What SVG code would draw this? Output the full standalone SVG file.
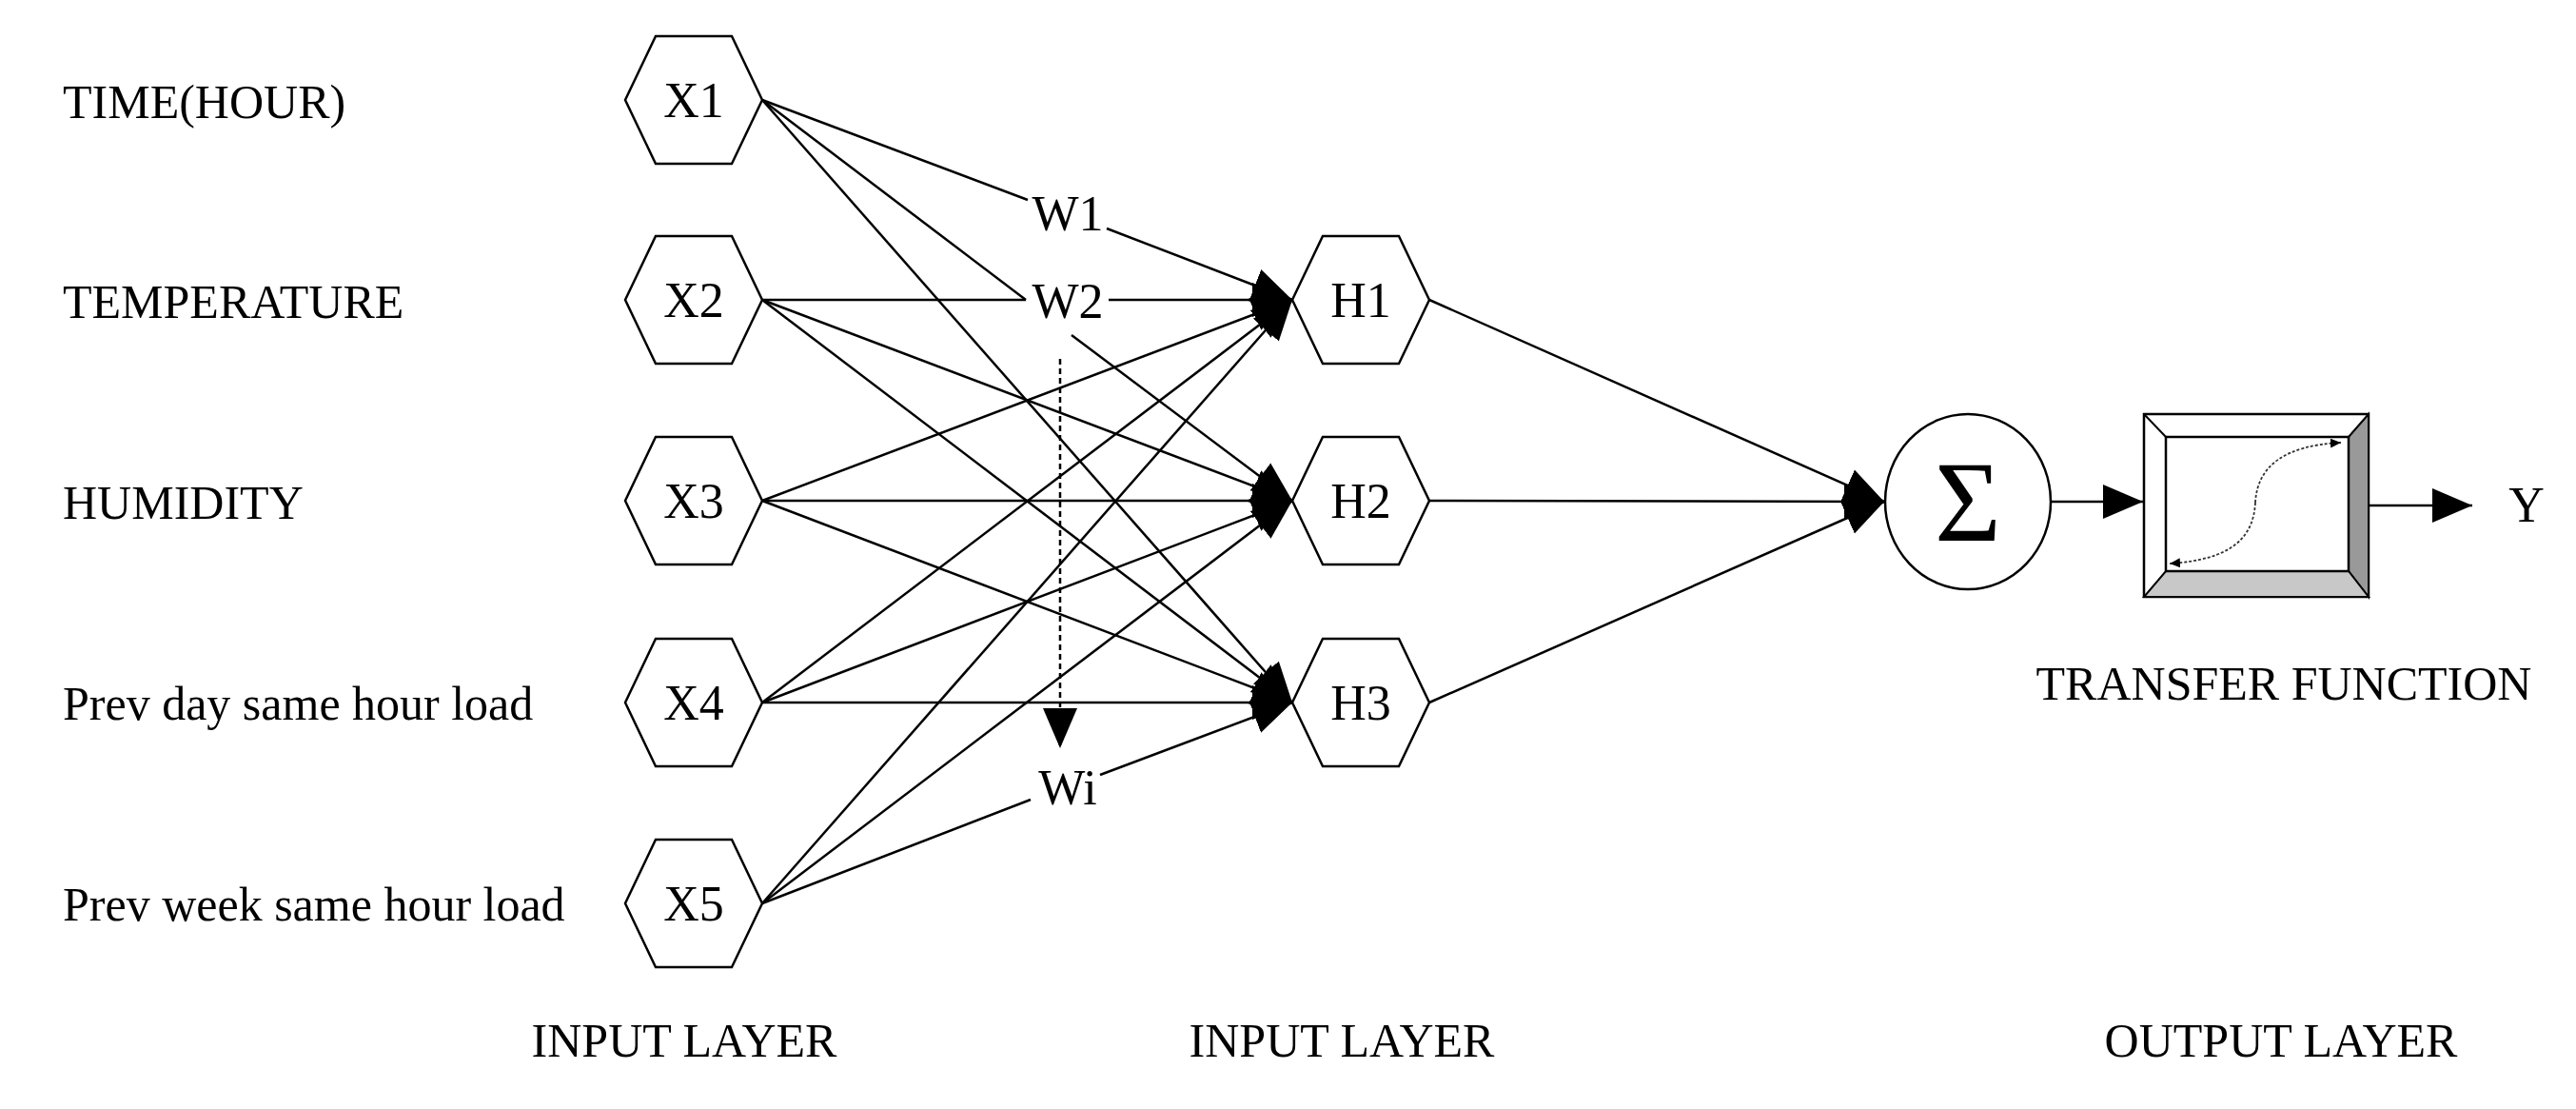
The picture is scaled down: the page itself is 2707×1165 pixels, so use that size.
<svg xmlns="http://www.w3.org/2000/svg" width="2707" height="1165" viewBox="0 0 2707 1165">
<defs>
<style>
text{font-family:"Liberation Serif","Times New Roman",serif;fill:#000}
.lbl{font-size:50px}
.nd{font-size:52px;text-anchor:middle}
.hex{fill:#fff;stroke:#000;stroke-width:2.5}
.c{stroke:#000;stroke-width:2.5;fill:none}
</style>
<marker id="ah" markerUnits="userSpaceOnUse" markerWidth="44" markerHeight="40" refX="42" refY="20" orient="auto"><path d="M0,2 L42,20 L0,38 Z" fill="#000"/></marker>
<marker id="sa" markerUnits="userSpaceOnUse" markerWidth="12" markerHeight="10" refX="11" refY="5" orient="auto"><path d="M0,0 L11,5 L0,10 Z" fill="#000"/></marker>
</defs>
<rect width="2707" height="1165" fill="#fff"/>
<g id="labels">
<text class="lbl" x="66" y="124">TIME(HOUR)</text>
<text class="lbl" x="66" y="334">TEMPERATURE</text>
<text class="lbl" x="66" y="545">HUMIDITY</text>
<text class="lbl" x="66" y="756">Prev day same hour load</text>
<text class="lbl" x="66" y="967">Prev week same hour load</text>
<text class="lbl" x="719" y="1110" text-anchor="middle">INPUT LAYER</text>
<text class="lbl" x="1410" y="1110" text-anchor="middle">INPUT LAYER</text>
<text class="lbl" x="2397" y="1110" text-anchor="middle">OUTPUT LAYER</text>
<text class="lbl" x="2400" y="735" text-anchor="middle">TRANSFER FUNCTION</text>
<text class="nd" x="1122" y="242">W1</text>
<text class="nd" x="1122" y="334">W2</text>
<text class="nd" x="1122" y="845">Wi</text>
<text class="nd" x="2655" y="548">Y</text>
</g>
<g id="connectors">
<line class="c" x1="801" y1="105" x2="1080" y2="210"/>
<line class="c" x1="1163" y1="240" x2="1358" y2="315" marker-end="url(#ah)"/>
<line class="c" x1="801" y1="105" x2="1078" y2="315"/>
<line class="c" x1="1126" y1="352" x2="1358" y2="526" marker-end="url(#ah)"/>
<line class="c" x1="801" y1="105" x2="1358" y2="738" marker-end="url(#ah)"/>
<line class="c" x1="801" y1="315" x2="1078" y2="315"/>
<line class="c" x1="1165" y1="315" x2="1358" y2="315" marker-end="url(#ah)"/>
<line class="c" x1="801" y1="315" x2="1358" y2="526" marker-end="url(#ah)"/>
<line class="c" x1="801" y1="315" x2="1358" y2="738" marker-end="url(#ah)"/>
<line class="c" x1="801" y1="526" x2="1358" y2="315" marker-end="url(#ah)"/>
<line class="c" x1="801" y1="526" x2="1358" y2="526" marker-end="url(#ah)"/>
<line class="c" x1="801" y1="526" x2="1358" y2="738" marker-end="url(#ah)"/>
<line class="c" x1="801" y1="738" x2="1358" y2="315" marker-end="url(#ah)"/>
<line class="c" x1="801" y1="738" x2="1358" y2="526" marker-end="url(#ah)"/>
<line class="c" x1="801" y1="738" x2="1358" y2="738" marker-end="url(#ah)"/>
<line class="c" x1="801" y1="949" x2="1358" y2="315" marker-end="url(#ah)"/>
<line class="c" x1="801" y1="949" x2="1358" y2="526" marker-end="url(#ah)"/>
<line class="c" x1="801" y1="949" x2="1083" y2="840"/>
<line class="c" x1="1156" y1="814" x2="1358" y2="738" marker-end="url(#ah)"/>
<line x1="1114" y1="377" x2="1114" y2="786" stroke="#000" stroke-width="2.5" stroke-dasharray="6,4" marker-end="url(#ah)"/>
<line class="c" x1="1502" y1="315" x2="1980" y2="527" marker-end="url(#ah)"/>
<line class="c" x1="1502" y1="526" x2="1980" y2="527" marker-end="url(#ah)"/>
<line class="c" x1="1502" y1="738" x2="1980" y2="527" marker-end="url(#ah)"/>
<line class="c" x1="2155" y1="527" x2="2252" y2="527" marker-end="url(#ah)"/>
<line class="c" x1="2489" y1="531" x2="2598" y2="531" marker-end="url(#ah)"/>
</g>
<g id="X1"><polygon class="hex" points="657,105 689,38 769,38 801,105 769,172 689,172"/><text class="nd" x="729" y="123">X1</text></g>
<g id="X2"><polygon class="hex" points="657,315 689,248 769,248 801,315 769,382 689,382"/><text class="nd" x="729" y="333">X2</text></g>
<g id="X3"><polygon class="hex" points="657,526 689,459 769,459 801,526 769,593 689,593"/><text class="nd" x="729" y="544">X3</text></g>
<g id="X4"><polygon class="hex" points="657,738 689,671 769,671 801,738 769,805 689,805"/><text class="nd" x="729" y="756">X4</text></g>
<g id="X5"><polygon class="hex" points="657,949 689,882 769,882 801,949 769,1016 689,1016"/><text class="nd" x="729" y="967">X5</text></g>
<g id="H1"><polygon class="hex" points="1358,315 1390,248 1470,248 1502,315 1470,382 1390,382"/><text class="nd" x="1430" y="333">H1</text></g>
<g id="H2"><polygon class="hex" points="1358,526 1390,459 1470,459 1502,526 1470,593 1390,593"/><text class="nd" x="1430" y="544">H2</text></g>
<g id="H3"><polygon class="hex" points="1358,738 1390,671 1470,671 1502,738 1470,805 1390,805"/><text class="nd" x="1430" y="756">H3</text></g>
<g id="sum"><ellipse cx="2068" cy="527" rx="87" ry="92" fill="#fff" stroke="#000" stroke-width="2.5"/><text x="2068" y="568" font-size="120" text-anchor="middle">Σ</text></g>
<g id="transfer">
<rect x="2253" y="435" width="236" height="192" fill="#fff" stroke="#000" stroke-width="2.5"/>
<polygon points="2468,459 2489,435 2489,627 2468,600" fill="#999" stroke="#000" stroke-width="2"/>
<polygon points="2276,600 2468,600 2489,627 2253,627" fill="#c8c8c8" stroke="#000" stroke-width="2"/>
<line x1="2253" y1="435" x2="2276" y2="459" stroke="#000" stroke-width="2"/>
<rect x="2276" y="459" width="192" height="141" fill="#fff" stroke="#000" stroke-width="2.5"/>
<path d="M2370,528 C2372,490 2400,468 2460,465" fill="none" stroke="#333" stroke-width="1.8" stroke-dasharray="3,2" marker-end="url(#sa)"/>
<path d="M2370,528 C2368,565 2345,588 2280,592" fill="none" stroke="#333" stroke-width="1.8" stroke-dasharray="3,2" marker-end="url(#sa)"/>
</g>
</svg>
